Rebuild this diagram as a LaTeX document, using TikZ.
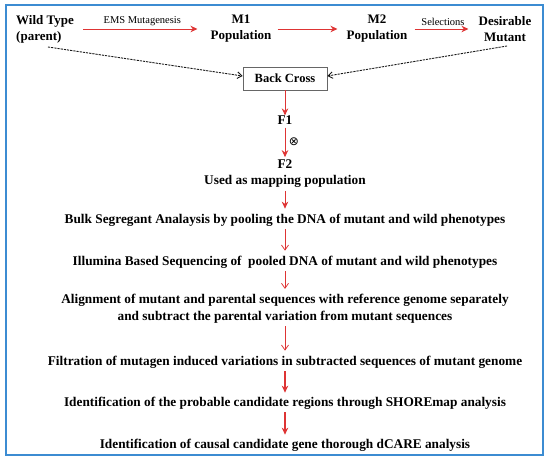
\documentclass[tikz,border=0pt]{standalone}
\usepackage{fontspec}
\setmainfont{Liberation Serif}
\newfontfamily\symfnt{DejaVu Sans}
\usetikzlibrary{arrows.meta,calc}
\definecolor{frameblue}{RGB}{60,140,210}
\definecolor{arrred}{RGB}{222,52,52}
\begin{document}
\begin{tikzpicture}[x=1pt,y=-1pt,
 lab/.style={font=\bfseries\fontsize{13}{16}\selectfont, align=center, inner sep=0pt},
 txt/.style={font=\bfseries\fontsize{13.3}{16.5}\selectfont, align=center, inner sep=0pt},
 smalllab/.style={font=\fontsize{10.5}{12}\selectfont, inner sep=0pt},
 redarr/.style={draw=arrred, line width=1pt, -{Stealth[length=7pt,width=6.5pt]}},
 thinarr/.style={draw=arrred, line width=0.75pt, -{Straight Barb[length=5pt,width=7pt]}},
 dasharr/.style={draw=black!90, dash pattern=on 2.2pt off 1pt, line width=0.9pt, -{Straight Barb[length=4.5pt,width=6.5pt]}},
 boxnode/.style={draw=black!60, line width=0.8pt, minimum width=84pt, minimum height=23pt, inner sep=0pt, font=\bfseries\fontsize{12.5}{15}\selectfont}]
\useasboundingbox (0,0) rectangle (550,462);
\draw[frameblue, line width=1.6pt] (6,5) rectangle (543,455);

\node[lab, align=left, anchor=west] (wt) at (16,29) {Wild Type\\(parent)};
\node[lab] (m1) at (241,29) {M1\\Population};
\node[lab] (m2) at (377,29) {M2\\Population};
\node[lab] (dm) at (505,29) {Desirable\\Mutant};

\draw[redarr, line width=0.9pt, shorten <=9pt, shorten >=13pt] (wt) -- node[smalllab, above=3pt] (ems) {EMS Mutagenesis} (m1);
\draw[redarr, line width=0.9pt, shorten <=6pt, shorten >=9pt] (m1) -- (m2);
\draw[redarr, line width=0.9pt, shorten <=7pt, shorten >=10pt] (m2) -- node[smalllab, above=3pt] (sel) {Selections} (dm);

\node[boxnode] (bc) at (285,78.5) {Back Cross};
\coordinate (wtd) at (48,47);
\coordinate (dmd) at (507,46);
\draw[dasharr] (wtd) -- ($(bc.west)+(0,-2.5)$);
\draw[dasharr] (dmd) -- ($(bc.east)+(0,-2.5)$);

\node[txt] (f1) at (285,120) {F1};
\node[txt] (f2) at (285,173.5) {F2\\Used as mapping population};
\node[inner sep=0pt, font=\symfnt\fontsize{12}{12}\selectfont] (cross) at (294,142) {⊗};
\node[txt] (bsa) at (285,220) {Bulk Segregant Analaysis by pooling the DNA of mutant and wild phenotypes};
\node[txt] (ill) at (285,262) {Illumina Based Sequencing of\ \ pooled DNA of mutant and wild phenotypes};
\node[txt] (ali) at (285,308.5) {Alignment of mutant and parental sequences with reference genome separately\\and subtract the parental variation from mutant sequences};
\node[txt] (fil) at (285,362) {Filtration of mutagen induced variations in subtracted sequences of mutant genome};
\node[txt] (idp) at (285,403) {Identification of the probable candidate regions through SHOREmap analysis};
\node[txt] (idc) at (285,445) {Identification of causal candidate gene thorough dCARE analysis};

\draw[redarr] (bc) -- (f1);
\draw[redarr, shorten <=3pt, shorten >=2pt] (f1) -- (f2);
\draw[redarr, shorten <=3pt, shorten >=5pt] (f2) -- (bsa);
\draw[thinarr, shorten <=3pt, shorten >=5pt] (bsa) -- (ill);
\draw[thinarr, shorten <=3pt, shorten >=5pt] (ill) -- (ali);
\draw[thinarr, shorten <=3pt, shorten >=5pt] (ali) -- (fil);
\draw[redarr, line width=1.2pt, shorten <=3pt, shorten >=4pt] (fil) -- (idp);
\draw[redarr, line width=1.2pt, shorten <=3pt, shorten >=4pt] (idp) -- (idc);
\end{tikzpicture}
\end{document}
